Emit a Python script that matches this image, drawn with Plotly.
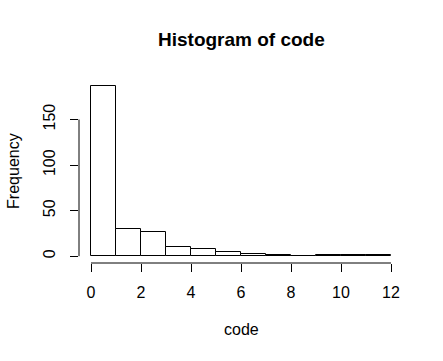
import plotly.graph_objects as go

bin_edges = [0, 1, 2, 3, 4, 5, 6, 7, 8, 9, 10, 11, 12]
counts = [187, 30, 27, 10, 8, 5, 2, 1, 0, 1, 1, 1]
x_ticks = [0, 2, 4, 6, 8, 10, 12]
y_ticks = [0, 50, 100, 150]
title_text = "Histogram of code"
x_label = "code"
y_label = "Frequency"

FONT = "Liberation Sans, Arial, Helvetica, sans-serif"

centers = [(bin_edges[i] + bin_edges[i + 1]) / 2 for i in range(len(counts))]
widths = [bin_edges[i + 1] - bin_edges[i] for i in range(len(counts))]

x_pad = 0.04 * (bin_edges[-1] - bin_edges[0])
y_pad = 0.04 * max(counts)

fig = go.Figure(
    go.Bar(
        x=centers,
        y=counts,
        width=widths,
        marker=dict(color="white", line=dict(color="black", width=1)),
        hoverinfo="x+y",
    )
)

fig.update_layout(
    width=443,
    height=361,
    margin=dict(l=79, r=40, t=79, b=98),
    paper_bgcolor="white",
    plot_bgcolor="white",
    showlegend=False,
    bargap=0,
    font=dict(family=FONT, size=16, color="black"),
    xaxis=dict(
        range=[bin_edges[0] - x_pad, bin_edges[-1] + x_pad],
        tickvals=x_ticks,
        ticktext=[str(v) for v in x_ticks],
        ticks="outside",
        ticklen=8,
        tickwidth=1,
        tickcolor="black",
        ticklabelstandoff=7,
        showgrid=False,
        zeroline=False,
        showline=False,
        tickfont=dict(size=16, family=FONT, color="black"),
    ),
    yaxis=dict(
        range=[-y_pad, max(counts) + y_pad],
        tickvals=y_ticks,
        ticktext=[str(v) for v in y_ticks],
        ticks="outside",
        ticklen=8,
        tickwidth=1,
        tickcolor="black",
        tickangle=-90,
        ticklabelstandoff=9,
        showgrid=False,
        zeroline=False,
        showline=False,
        tickfont=dict(size=16, family=FONT, color="black"),
    ),
    shapes=[
        dict(type="line", xref="x", yref="paper", x0=x_ticks[0], x1=x_ticks[-1],
             y0=0, y1=0, line=dict(color="black", width=1)),
        dict(type="line", xref="paper", yref="y", x0=0, x1=0,
             y0=y_ticks[0], y1=y_ticks[-1], line=dict(color="black", width=1)),
    ],
    annotations=[
        dict(text="<b>" + title_text + "</b>", xref="paper", yref="paper",
             x=0.5, y=1.212, showarrow=False, xanchor="center", yanchor="middle",
             font=dict(size=19, family=FONT, color="black")),
        dict(text=x_label, xref="paper", yref="paper",
             x=0.5, y=-0.36, showarrow=False, xanchor="center", yanchor="middle",
             font=dict(size=16, family=FONT, color="black")),
        dict(text=y_label, xref="paper", yref="paper",
             x=-0.204, y=0.5, showarrow=False, xanchor="center", yanchor="middle",
             textangle=-90, font=dict(size=16, family=FONT, color="black")),
    ],
)

fig.write_html("out.html")
